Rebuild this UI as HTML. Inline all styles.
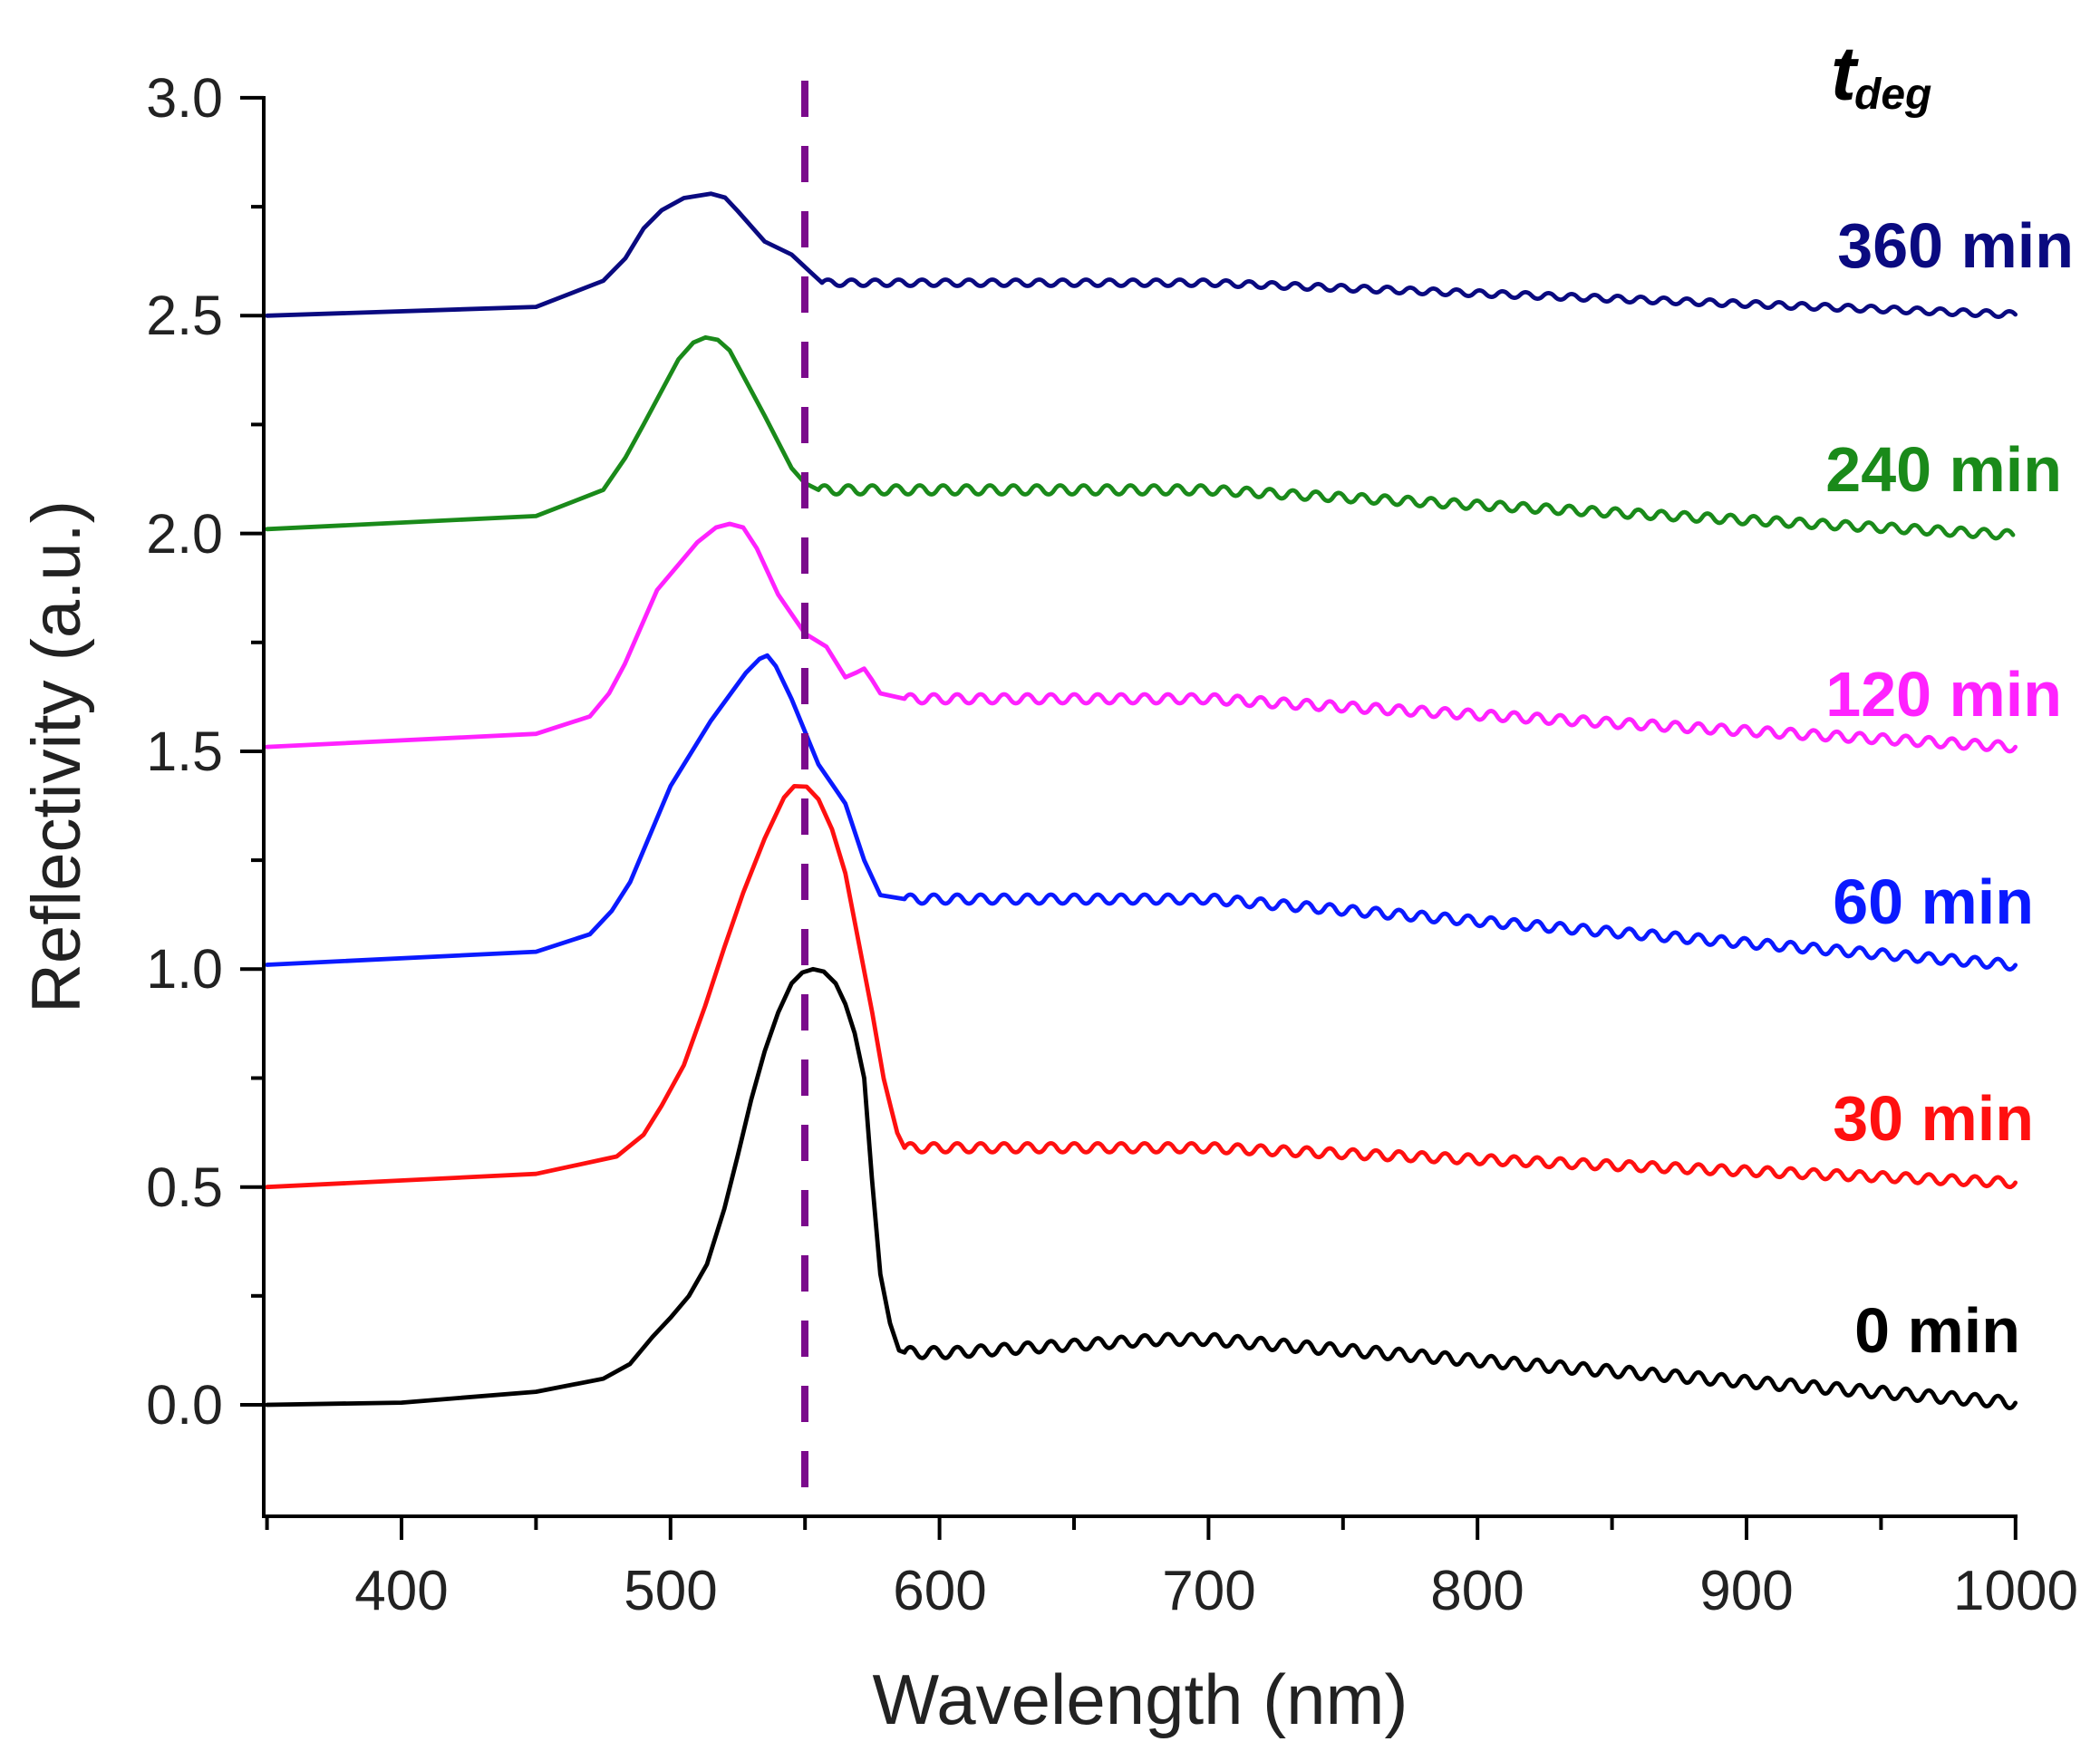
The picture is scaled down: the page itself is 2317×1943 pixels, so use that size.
<!DOCTYPE html>
<html><head><meta charset="utf-8"><style>
html,body{margin:0;padding:0;background:#fff;}
svg{display:block;}
text{font-family:"Liberation Sans",Arial,sans-serif;}
</style></head><body>
<svg width="2317" height="1943" viewBox="0 0 2317 1943" xmlns="http://www.w3.org/2000/svg">
<rect width="2317" height="1943" fill="#fff"/>
<g fill="none" stroke-width="4.8" stroke-linejoin="round" stroke-linecap="round">
<path stroke="#0a0a80" d="M294.6,348.3 L591.4,338.6 L665.6,309.8 L690,285 L710.1,252.1 L730,232 L754.6,218.5 L784.3,213.7 L800,218 L814,232.9 L843.7,266.5 L873.4,280.9 L894.1,300.1 L907,312 q6.5,-7 13,0 t13,0 t13,0 t13,0 t13,0 t13,0 t13,0 t12.92,0 t12.92,0 t12.92,0 t12.92,0 t12.92,0 t12.92,0 t12.92,0 t12.92,0 t12.92,0 t12.92,0 t12.92,0 t12.92,0 t12.92,0 t12.92,0 t12.92,0 t12.92,0 t12.92,0 t12.92,0 t12.92,0 t12.92,0 t12.92,0 t12.92,0 t12.92,0 t12.92,0 t12.92,0 t12.92,0 t12.71,0.5 t12.71,0.5 t12.71,0.5 t12.71,0.5 t12.71,0.5 t12.71,0.5 t12.71,0.5 t12.71,0.5 t12.71,0.5 t12.71,0.5 t12.71,0.5 t12.71,0.5 t12.71,0.5 t12.71,0.5 t12.71,0.5 t12.71,0.5 t12.71,0.5 t12.71,0.5 t12.71,0.5 t12.71,0.5 t12.71,0.5 t12.71,0.5 t12.71,0.5 t12.71,0.5 t12.71,0.5 t12.71,0.5 t12.71,0.5 t12.71,0.5 t12.71,0.5 t12.71,0.5 t12.71,0.5 t12.71,0.5 t12.71,0.5 t12.71,0.5 t12.71,0.5 t12.71,0.5 t12.71,0.5 t12.71,0.5 t12.71,0.5 t12.71,0.5 t12.71,0.5 t12.71,0.5 t12.71,0.5 t12.71,0.5 t12.71,0.5 t12.71,0.5 t12.71,0.5 t12.71,0.5 t12.71,0.5 t12.71,0.5 t12.71,0.5 t12.71,0.5 t12.71,0.5 t12.71,0.5 t12.71,0.5 t12.71,0.5 t12.71,0.5 t12.71,0.5 t12.71,0.5 t12.71,0.5 t12.71,0.5 t12.71,0.5 t12.71,0.5 t12.71,0.5 t12.71,0.5 t12.71,0.5 t12.71,0.5 t12.71,0.5 t12.71,0.5 t12.71,0.5"/>
<path stroke="#1a8a1a" d="M294.6,583.8 L591.4,569.4 L665.6,540.5 L690,505 L710.1,468.4 L748.7,396.3 L765,378 L778.4,372.3 L792,375 L805.1,386.7 L843.7,458.8 L873.4,516.5 L888,533 L903,540.5 q6.6,-10 13.2,0 t13.2,0 t13.2,0 t13.2,0 t13.2,0 t13.2,0 t13.2,0 t12.92,0 t12.92,0 t12.92,0 t12.92,0 t12.92,0 t12.92,0 t12.92,0 t12.92,0 t12.92,0 t12.92,0 t12.92,0 t12.92,0 t12.92,0 t12.92,0 t12.92,0 t12.92,0 t12.92,0 t12.92,0 t12.92,0 t12.92,0 t12.92,0 t12.92,0 t12.92,0 t12.92,0 t12.92,0 t12.92,0 t12.71,0.71 t12.71,0.71 t12.71,0.71 t12.71,0.71 t12.71,0.71 t12.71,0.71 t12.71,0.71 t12.71,0.71 t12.71,0.71 t12.71,0.71 t12.71,0.71 t12.71,0.71 t12.71,0.71 t12.71,0.71 t12.71,0.71 t12.71,0.71 t12.71,0.71 t12.71,0.71 t12.71,0.71 t12.71,0.71 t12.71,0.71 t12.71,0.71 t12.71,0.71 t12.71,0.71 t12.71,0.71 t12.71,0.71 t12.71,0.71 t12.71,0.71 t12.71,0.71 t12.71,0.71 t12.71,0.71 t12.71,0.71 t12.71,0.71 t12.71,0.71 t12.71,0.71 t12.71,0.71 t12.71,0.71 t12.71,0.71 t12.71,0.71 t12.71,0.71 t12.71,0.71 t12.71,0.71 t12.71,0.71 t12.71,0.71 t12.71,0.71 t12.71,0.71 t12.71,0.71 t12.71,0.71 t12.71,0.71 t12.71,0.71 t12.71,0.71 t12.71,0.71 t12.71,0.71 t12.71,0.71 t12.71,0.71 t12.71,0.71 t12.71,0.71 t12.71,0.71 t12.71,0.71 t12.71,0.71 t12.71,0.71 t12.71,0.71 t12.71,0.71 t12.71,0.71 t12.71,0.71 t12.71,0.71 t12.71,0.71 t12.71,0.71 t12.71,0.71 t12.71,0.71"/>
<path stroke="#ff22ff" d="M294.6,824.1 L591.4,809.7 L650.8,790.5 L672,765 L689.3,732.8 L725,651 L769.5,598.2 L790,582 L805.1,578 L820,582 L835,605 L858.5,655.9 L888.2,699.1 L911.9,713.6 L932.7,747.3 L945,742 L953.5,737.7 L962,750 L971.3,765 L998,771 q6.46,-10 12.92,0 t12.92,0 t12.92,0 t12.92,0 t12.92,0 t12.92,0 t12.92,0 t12.92,0 t12.92,0 t12.92,0 t12.92,0 t12.92,0 t12.92,0 t12.92,0 t12.92,0 t12.92,0 t12.92,0 t12.92,0 t12.92,0 t12.92,0 t12.92,0 t12.92,0 t12.92,0 t12.92,0 t12.92,0 t12.92,0 t12.71,0.76 t12.71,0.76 t12.71,0.76 t12.71,0.76 t12.71,0.76 t12.71,0.76 t12.71,0.76 t12.71,0.76 t12.71,0.76 t12.71,0.76 t12.71,0.76 t12.71,0.76 t12.71,0.76 t12.71,0.76 t12.71,0.76 t12.71,0.76 t12.71,0.76 t12.71,0.76 t12.71,0.76 t12.71,0.76 t12.71,0.76 t12.71,0.76 t12.71,0.76 t12.71,0.76 t12.71,0.76 t12.71,0.76 t12.71,0.76 t12.71,0.76 t12.71,0.76 t12.71,0.76 t12.71,0.76 t12.71,0.76 t12.71,0.76 t12.71,0.76 t12.71,0.76 t12.71,0.76 t12.71,0.76 t12.71,0.76 t12.71,0.76 t12.71,0.76 t12.71,0.76 t12.71,0.76 t12.71,0.76 t12.71,0.76 t12.71,0.76 t12.71,0.76 t12.71,0.76 t12.71,0.76 t12.71,0.76 t12.71,0.76 t12.71,0.76 t12.71,0.76 t12.71,0.76 t12.71,0.76 t12.71,0.76 t12.71,0.76 t12.71,0.76 t12.71,0.76 t12.71,0.76 t12.71,0.76 t12.71,0.76 t12.71,0.76 t12.71,0.76 t12.71,0.76 t12.71,0.76 t12.71,0.76 t12.71,0.76 t12.71,0.76 t12.71,0.76 t12.71,0.76"/>
<path stroke="#0a1aff" d="M294.6,1064.5 L591.4,1050.1 L650.8,1030.8 L675,1005 L695.3,973.2 L739.8,867.4 L784.3,795.3 L822.9,742.4 L838,727 L846.6,723.2 L856,735 L873.4,771.3 L903,843.4 L920,868 L932.7,886.6 L953.5,949.1 L971.3,987.6 L998,992 q6.46,-10 12.92,0 t12.92,0 t12.92,0 t12.92,0 t12.92,0 t12.92,0 t12.92,0 t12.92,0 t12.92,0 t12.92,0 t12.92,0 t12.92,0 t12.92,0 t12.92,0 t12.92,0 t12.92,0 t12.92,0 t12.92,0 t12.92,0 t12.92,0 t12.92,0 t12.92,0 t12.92,0 t12.92,0 t12.92,0 t12.92,0 t12.71,1.04 t12.71,1.04 t12.71,1.04 t12.71,1.04 t12.71,1.04 t12.71,1.04 t12.71,1.04 t12.71,1.04 t12.71,1.04 t12.71,1.04 t12.71,1.04 t12.71,1.04 t12.71,1.04 t12.71,1.04 t12.71,1.04 t12.71,1.04 t12.71,1.04 t12.71,1.04 t12.71,1.04 t12.71,1.04 t12.71,1.04 t12.71,1.04 t12.71,1.04 t12.71,1.04 t12.71,1.04 t12.71,1.04 t12.71,1.04 t12.71,1.04 t12.71,1.04 t12.71,1.04 t12.71,1.04 t12.71,1.04 t12.71,1.04 t12.71,1.04 t12.71,1.04 t12.71,1.04 t12.71,1.04 t12.71,1.04 t12.71,1.04 t12.71,1.04 t12.71,1.04 t12.71,1.04 t12.71,1.04 t12.71,1.04 t12.71,1.04 t12.71,1.04 t12.71,1.04 t12.71,1.04 t12.71,1.04 t12.71,1.04 t12.71,1.04 t12.71,1.04 t12.71,1.04 t12.71,1.04 t12.71,1.04 t12.71,1.04 t12.71,1.04 t12.71,1.04 t12.71,1.04 t12.71,1.04 t12.71,1.04 t12.71,1.04 t12.71,1.04 t12.71,1.04 t12.71,1.04 t12.71,1.04 t12.71,1.04 t12.71,1.04 t12.71,1.04 t12.71,1.04"/>
<path stroke="#ff1010" d="M294.6,1309.7 L591.4,1295.2 L680.4,1276 L710.1,1252 L730,1220 L754.6,1175.1 L778,1110 L799.2,1045.3 L820,985 L843.7,925.1 L865,880 L876.3,867.4 L890,868 L903,881.8 L918,915 L932.7,963.5 L962.4,1117.4 L975,1190 L983.2,1223.1 L990,1250 L998,1266.4 q6.46,-10 12.92,0 t12.92,0 t12.92,0 t12.92,0 t12.92,0 t12.92,0 t12.92,0 t12.92,0 t12.92,0 t12.92,0 t12.92,0 t12.92,0 t12.92,0 t12.92,0 t12.92,0 t12.92,0 t12.92,0 t12.92,0 t12.92,0 t12.92,0 t12.92,0 t12.92,0 t12.92,0 t12.92,0 t12.92,0 t12.92,0 t12.71,0.55 t12.71,0.55 t12.71,0.55 t12.71,0.55 t12.71,0.55 t12.71,0.55 t12.71,0.55 t12.71,0.55 t12.71,0.55 t12.71,0.55 t12.71,0.55 t12.71,0.55 t12.71,0.55 t12.71,0.55 t12.71,0.55 t12.71,0.55 t12.71,0.55 t12.71,0.55 t12.71,0.55 t12.71,0.55 t12.71,0.55 t12.71,0.55 t12.71,0.55 t12.71,0.55 t12.71,0.55 t12.71,0.55 t12.71,0.55 t12.71,0.55 t12.71,0.55 t12.71,0.55 t12.71,0.55 t12.71,0.55 t12.71,0.55 t12.71,0.55 t12.71,0.55 t12.71,0.55 t12.71,0.55 t12.71,0.55 t12.71,0.55 t12.71,0.55 t12.71,0.55 t12.71,0.55 t12.71,0.55 t12.71,0.55 t12.71,0.55 t12.71,0.55 t12.71,0.55 t12.71,0.55 t12.71,0.55 t12.71,0.55 t12.71,0.55 t12.71,0.55 t12.71,0.55 t12.71,0.55 t12.71,0.55 t12.71,0.55 t12.71,0.55 t12.71,0.55 t12.71,0.55 t12.71,0.55 t12.71,0.55 t12.71,0.55 t12.71,0.55 t12.71,0.55 t12.71,0.55 t12.71,0.55 t12.71,0.55 t12.71,0.55 t12.71,0.55 t12.71,0.55"/>
<path stroke="#000" d="M294.6,1550 L443,1547.6 L591.4,1535.6 L665.6,1521.2 L695,1505 L720,1475 L739.8,1453.9 L760,1430 L780,1395 L799.2,1333.7 L814,1275 L828.8,1213.5 L843.7,1160 L858.5,1117.4 L873.4,1085 L885.3,1073 L897.1,1069.3 L908.9,1072 L922,1085 L932.7,1107.8 L943,1140 L953.5,1189.5 L962,1300 L971.3,1405.8 L982,1460 L992,1490 L998,1492.3 q6.46,-12 12.92,0 t12.92,0 t12.92,0 t12.92,0 t12.92,-0.8 t12.92,-0.8 t12.92,-0.8 t12.92,-0.8 t12.92,-0.8 t12.92,-0.8 t12.92,-0.8 t12.92,-0.8 t12.92,-0.8 t12.92,-0.8 t12.92,-0.8 t12.92,-0.8 t12.92,-0.8 t12.92,-0.8 t12.92,-0.8 t12.92,-0.8 t12.92,-0.8 t12.92,-0.8 t12.92,0 t12.92,0 t12.92,0 t12.92,0 t12.71,1.0 t12.71,1.0 t12.71,1.0 t12.71,1.0 t12.71,1.0 t12.71,1.0 t12.71,1.0 t12.71,1.0 t12.71,1.0 t12.71,1.0 t12.71,1.0 t12.71,1.0 t12.71,1.0 t12.71,1.0 t12.71,1.0 t12.71,1.0 t12.71,1.0 t12.71,1.0 t12.71,1.0 t12.71,1.0 t12.71,1.0 t12.71,1.0 t12.71,1.0 t12.71,1.0 t12.71,1.0 t12.71,1.0 t12.71,1.0 t12.71,1.0 t12.71,1.0 t12.71,1.0 t12.71,1.0 t12.71,1.0 t12.71,1.0 t12.71,1.0 t12.71,1.0 t12.71,1.0 t12.71,1.0 t12.71,1.0 t12.71,1.0 t12.71,1.0 t12.71,1.0 t12.71,1.0 t12.71,1.0 t12.71,1.0 t12.71,1.0 t12.71,1.0 t12.71,1.0 t12.71,1.0 t12.71,1.0 t12.71,1.0 t12.71,1.0 t12.71,1.0 t12.71,1.0 t12.71,1.0 t12.71,1.0 t12.71,1.0 t12.71,1.0 t12.71,1.0 t12.71,1.0 t12.71,1.0 t12.71,1.0 t12.71,1.0 t12.71,1.0 t12.71,1.0 t12.71,1.0 t12.71,1.0 t12.71,1.0 t12.71,1.0 t12.71,1.0 t12.71,1.0"/>
</g>
<line x1="888" y1="89" x2="888" y2="1648" stroke="#7b0a8c" stroke-width="8" stroke-dasharray="40,32"/>
<g stroke="#000" stroke-width="4" fill="none">
<line x1="291" y1="106" x2="291" y2="1675"/>
<line x1="289" y1="1673" x2="2226" y2="1673"/>
<line x1="294.6" y1="1673" x2="294.6" y2="1688"/>
<line x1="443" y1="1673" x2="443" y2="1699"/>
<line x1="591.4" y1="1673" x2="591.4" y2="1688"/>
<line x1="739.8" y1="1673" x2="739.8" y2="1699"/>
<line x1="888.2" y1="1673" x2="888.2" y2="1688"/>
<line x1="1036.6" y1="1673" x2="1036.6" y2="1699"/>
<line x1="1185" y1="1673" x2="1185" y2="1688"/>
<line x1="1333.4" y1="1673" x2="1333.4" y2="1699"/>
<line x1="1481.8" y1="1673" x2="1481.8" y2="1688"/>
<line x1="1630.2" y1="1673" x2="1630.2" y2="1699"/>
<line x1="1778.6" y1="1673" x2="1778.6" y2="1688"/>
<line x1="1927" y1="1673" x2="1927" y2="1699"/>
<line x1="2075.4" y1="1673" x2="2075.4" y2="1688"/>
<line x1="2223.8" y1="1673" x2="2223.8" y2="1699"/>
<line x1="291" y1="1550" x2="265" y2="1550"/>
<line x1="291" y1="1429.8" x2="277" y2="1429.8"/>
<line x1="291" y1="1309.7" x2="265" y2="1309.7"/>
<line x1="291" y1="1189.5" x2="277" y2="1189.5"/>
<line x1="291" y1="1069.3" x2="265" y2="1069.3"/>
<line x1="291" y1="949.1" x2="277" y2="949.1"/>
<line x1="291" y1="829" x2="265" y2="829"/>
<line x1="291" y1="708.8" x2="277" y2="708.8"/>
<line x1="291" y1="588.6" x2="265" y2="588.6"/>
<line x1="291" y1="468.4" x2="277" y2="468.4"/>
<line x1="291" y1="348.3" x2="265" y2="348.3"/>
<line x1="291" y1="228.1" x2="277" y2="228.1"/>
<line x1="291" y1="107.9" x2="265" y2="107.9"/>
</g>
<g font-size="61" fill="#222" text-anchor="end">
<text x="246" y="129">3.0</text>
<text x="246" y="369">2.5</text>
<text x="246" y="610">2.0</text>
<text x="246" y="850">1.5</text>
<text x="246" y="1090">1.0</text>
<text x="246" y="1331">0.5</text>
<text x="246" y="1571">0.0</text>
</g>
<g font-size="62" fill="#222" text-anchor="middle">
<text x="443" y="1776">400</text>
<text x="740" y="1776">500</text>
<text x="1037" y="1776">600</text>
<text x="1334" y="1776">700</text>
<text x="1630" y="1776">800</text>
<text x="1927" y="1776">900</text>
<text x="2224" y="1776">1000</text>
</g>
<text x="1258" y="1902" font-size="78" fill="#222" text-anchor="middle">Wavelength (nm)</text>
<text transform="translate(88,835) rotate(-90)" font-size="76" fill="#222" text-anchor="middle">Reflectivity (a.u.)</text>
<text x="2020" y="110" font-size="84" font-weight="bold" font-style="italic" fill="#000">t</text>
<text x="2046" y="120" font-size="48" font-weight="bold" font-style="italic" fill="#000">deg</text>
<g font-size="70" font-weight="bold" text-anchor="end">
<text x="2288" y="295" fill="#0a0a80">360 min</text>
<text x="2275" y="542" fill="#1a8a1a">240 min</text>
<text x="2275" y="790" fill="#ff22ff">120 min</text>
<text x="2244" y="1019" fill="#0a1aff">60 min</text>
<text x="2244" y="1258" fill="#ff1010">30 min</text>
<text x="2229" y="1492" fill="#000">0 min</text>
</g>
</svg>
</body></html>
